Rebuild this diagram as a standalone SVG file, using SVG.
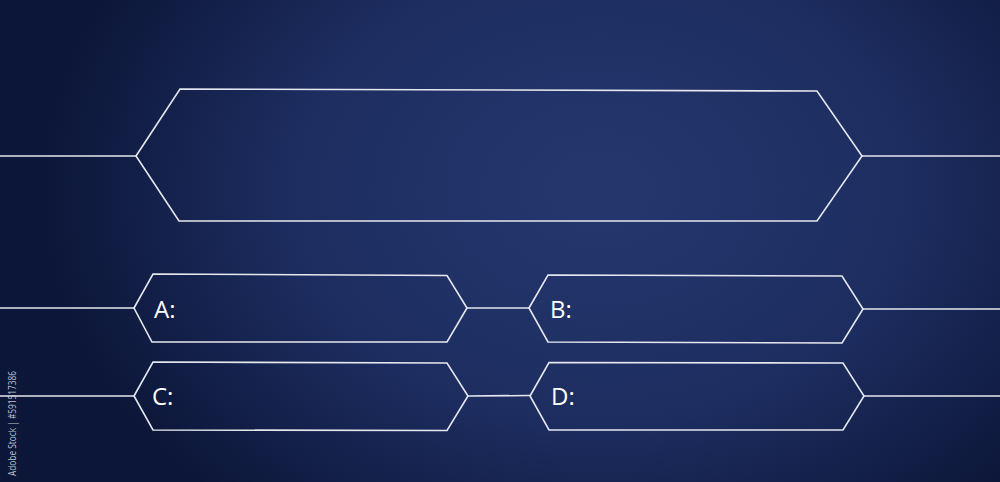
<svg xmlns="http://www.w3.org/2000/svg" width="1000" height="482" viewBox="0 0 1000 482">
<defs>
<radialGradient id="bg" cx="600" cy="190" r="560" gradientUnits="userSpaceOnUse" gradientTransform="translate(600 190) scale(1 0.75) translate(-600 -190)">
<stop offset="0" stop-color="#24386e"/>
<stop offset="0.55" stop-color="#1d2d60"/>
<stop offset="1" stop-color="#0c1638"/>
</radialGradient>
<style>
.ln{fill:none;stroke:#e6e8f0;stroke-width:1.6;stroke-linejoin:miter}
.lb{font-family:"Open Sans","Noto Sans",sans-serif;font-size:24px;fill:#ffffff}
.wm{font-family:"Open Sans","Noto Sans",sans-serif;font-size:10px;fill:#d3d8e4;fill-opacity:0.9}
</style>
</defs>
<rect width="1000" height="482" fill="url(#bg)"/>
<g id="connectors">
<line class="ln" x1="0" y1="156" x2="136" y2="156"/>
<line class="ln" x1="862" y1="156" x2="1000" y2="156"/>
<line class="ln" x1="0" y1="308" x2="134" y2="308"/>
<line class="ln" x1="467" y1="308" x2="529" y2="308"/>
<line class="ln" x1="863" y1="309" x2="1000" y2="309"/>
<line class="ln" x1="0" y1="396" x2="134" y2="396"/>
<line class="ln" x1="468" y1="396" x2="530" y2="395.5"/>
<line class="ln" x1="864" y1="396" x2="1000" y2="396"/>
</g>
<g id="question">
<polygon class="ln" points="136,156 180,89 817,91 862,156 817,221 179,221"/>
</g>
<g id="answerA">
<polygon class="ln" points="134,308 153,274 447,275.5 467,308 447,342 152,342"/>
<text class="lb" x="154" y="318">A:</text>
</g>
<g id="answerB">
<polygon class="ln" points="529,308 548,275 842,276 863,309 842,343 548,342"/>
<text class="lb" x="550" y="318">B:</text>
</g>
<g id="answerC">
<polygon class="ln" points="134,396 153,362 447,363 468,396 447,430.5 153,430"/>
<text class="lb" x="152" y="405">C:</text>
</g>
<g id="answerD">
<polygon class="ln" points="530,396 549,362.5 843,363 864,396 843,430 549,430"/>
<text class="lb" x="551" y="405">D:</text>
</g>
<text class="wm" transform="translate(15.5 476) rotate(-90)" textLength="105" lengthAdjust="spacingAndGlyphs">Adobe Stock | #591517386</text>
</svg>
